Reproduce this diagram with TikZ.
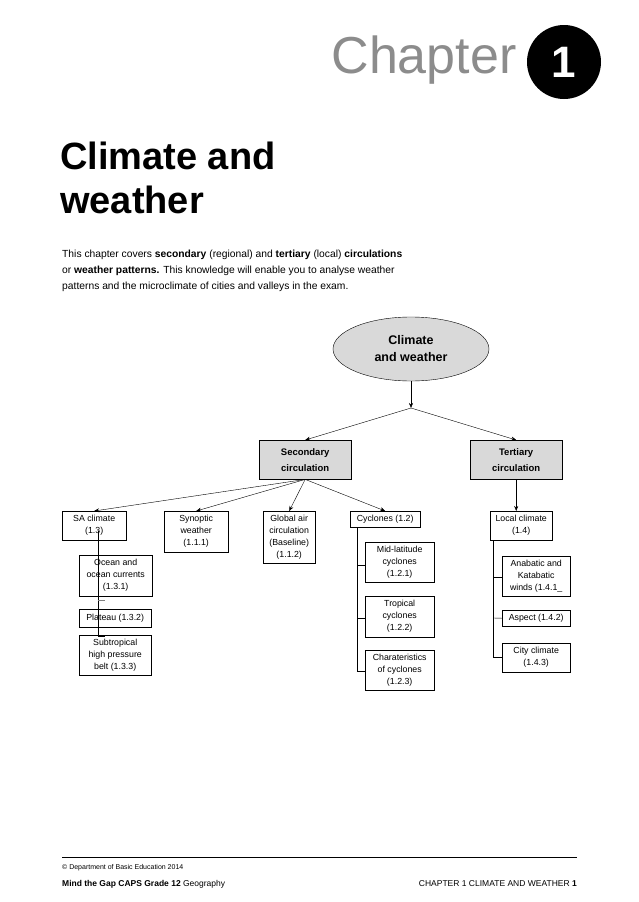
\documentclass[tikz,border=0pt]{standalone}
\usepackage{fontspec}
\setmainfont{Liberation Sans}
\usetikzlibrary{shapes.geometric,arrows.meta}
\begin{document}
\begin{tikzpicture}[x=1pt,y=-1pt,
  bx/.style={draw,inner sep=0pt,font=\fontsize{8.8}{12}\selectfont,align=center,anchor=north west},
  gbx/.style={bx,fill=black!15,font=\bfseries\fontsize{9.5}{16}\selectfont},
  arr/.style={-{Stealth[length=5pt,width=4pt]},thin},
  ln/.style={thin}]
\useasboundingbox (0,0) rectangle (638,902);
% header
\node[anchor=east,text=black!45,font=\fontsize{52}{52}\selectfont] (chap) at (520,60) {Chapter};
\node[circle,fill=black,minimum size=74pt,text=white,font=\bfseries\fontsize{44}{44}\selectfont] (one) at (564,62) {1};
\node[anchor=north west,align=left,font=\bfseries\fontsize{38}{44}\selectfont,inner sep=0pt] (title) at (60,142) {Climate and\\weather};
\node[anchor=north west,align=left,font=\fontsize{10.3}{16}\selectfont,inner sep=0pt] (intro) at (62,250) {This chapter covers \textbf{secondary} (regional) and \textbf{tertiary} (local) \textbf{circulations}\\or \textbf{weather patterns.} This knowledge will enable you to analyse weather\\patterns and the microclimate of cities and valleys in the exam.};
% diagram
\node[ellipse,draw,fill=black!15,minimum width=156pt,minimum height=64pt,align=center,font=\bfseries\fontsize{12.5}{17}\selectfont] (cw) at (411,349) {Climate\\and weather};
\coordinate (split) at (411,408);
\node[gbx,minimum width=92pt,minimum height=39pt] (sec) at (259,440) {Secondary\\circulation};
\node[gbx,minimum width=92pt,minimum height=39pt] (ter) at (470,440) {Tertiary\\circulation};
\draw[arr] (cw.south) -- (split);
\draw[arr] (split) -- (sec.north);
\draw[arr] (split) -- (ter.north);
\node[bx,minimum width=64pt,minimum height=29pt] (sa) at (62,511) {SA climate\\(1.3)};
\node[bx,minimum width=64pt,minimum height=41pt] (syn) at (164,511) {Synoptic\\weather\\(1.1.1)};
\node[bx,minimum width=52pt,minimum height=52pt] (glob) at (263,511) {Global air\\circulation\\(Baseline)\\(1.1.2)};
\node[bx,minimum width=70pt,minimum height=16pt] (cyc) at (350,511) {Cyclones (1.2)};
\draw[arr] (sec.south) -- (sa.north);
\draw[arr] (sec.south) -- (syn.north);
\draw[arr] (sec.south) -- (glob.north);
\draw[arr] (sec.south) -- (cyc.north);
% cyclones children
\node[bx,minimum width=69pt,minimum height=40pt] (mid) at (365,542) {Mid-latitude\\cyclones\\(1.2.1)};
\node[bx,minimum width=69pt,minimum height=41pt] (trop) at (365,596) {Tropical\\cyclones\\(1.2.2)};
\node[bx,minimum width=69pt,minimum height=40pt] (char) at (365,650) {Charateristics\\of cyclones\\(1.2.3)};
\draw[ln] (357,527) -- (357,671) -- (char.west |- 0,671);
\draw[ln] (357,565) -- (mid.west |- 0,565);
\draw[ln] (357,618) -- (trop.west |- 0,618);
% SA children
\node[bx,minimum width=73pt,minimum height=41pt] (ocean) at (79,555) {Ocean and\\ocean currents\\(1.3.1)};
\node[bx,minimum width=72pt,minimum height=18pt] (plat) at (79,609) {Plateau (1.3.2)};
\node[bx,minimum width=72pt,minimum height=40pt] (sub) at (79,635) {Subtropical\\high pressure\\belt (1.3.3)};
\draw[ln] (98,531) -- (98,636) -- (105,636);
\draw[ln,black!50] (98,600) -- (105,600);
% local
\node[bx,minimum width=62pt,minimum height=29pt] (loc) at (490,511) {Local climate\\(1.4)};
\draw[arr] (ter.south) -- (loc.north -| ter.south);
\node[bx,minimum width=68pt,minimum height=40pt] (ana) at (502,556) {Anabatic and\\Katabatic\\winds (1.4.1\_};
\node[bx,minimum width=68pt,minimum height=16pt] (asp) at (502,610) {Aspect (1.4.2)};
\node[bx,minimum width=68pt,minimum height=29pt] (city) at (502,643) {City climate\\(1.4.3)};
\draw[ln] (493,540) -- (493,657) -- (city.west |- 0,657);
\draw[ln] (493,577) -- (ana.west |- 0,577);
\draw[ln] (493,618) -- (asp.west);
% footer
\draw[thin] (62,857) -- (577,857);
\node[anchor=west,inner sep=0pt,font=\fontsize{7}{8}\selectfont] (copy) at (62,868) {© Department of Basic Education 2014};
\node[anchor=west,inner sep=0pt,font=\fontsize{8.5}{10}\selectfont] (mind) at (62,884) {\textbf{Mind the Gap CAPS Grade 12} Geography};
\node[anchor=east,inner sep=0pt,font=\fontsize{8.5}{10}\selectfont] (chf) at (577,884) {CHAPTER 1 CLIMATE AND WEATHER \textbf{1}};
\end{tikzpicture}
\end{document}
